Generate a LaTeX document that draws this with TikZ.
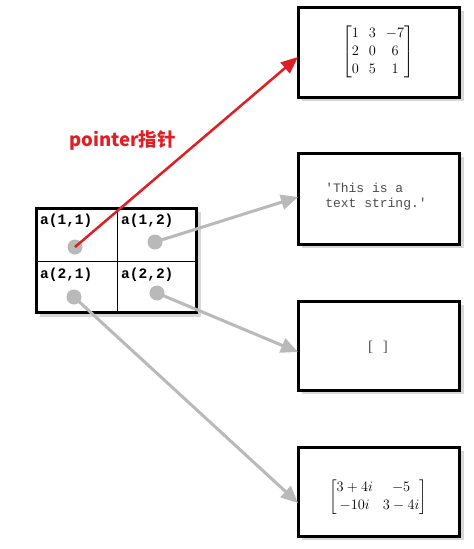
\documentclass[tikz,border=0pt]{standalone}
\usepackage{amsmath}
\usepackage{fontspec}
\setmainfont{Liberation Serif}
\setmonofont{Liberation Mono}
\newfontfamily\cjkfont{Noto Sans CJK SC}
\usetikzlibrary{arrows.meta}
\definecolor{ptrred}{RGB}{225,30,35}
\definecolor{ptrgray}{RGB}{185,185,185}
\definecolor{shadowgray}{RGB}{215,215,215}
\tikzset{
  cellbox/.style={draw=black, line width=3pt, fill=white},
  dot/.style={circle, fill=ptrgray, minimum size=15pt, inner sep=0pt},
  cellname/.style={font=\fontsize{14.5}{16}\selectfont\ttfamily\bfseries, anchor=north west, inner sep=0pt},
  grayarrow/.style={draw=ptrgray, line width=3pt, -{Triangle[length=17pt,width=15pt]}},
  redarrow/.style={draw=ptrred, line width=2.5pt, -{Triangle[length=17pt,width=14pt]}},
  content/.style={font=\fontsize{15}{18}\selectfont, inner sep=0pt}
}
\begin{document}
\begin{tikzpicture}[x=1pt,y=-1pt]
\useasboundingbox (0,0) rectangle (474,549);
\fill[white] (0,0) rectangle (474,549);
% array of cells
\fill[shadowgray] (40,212) rectangle (201,317);
\draw[cellbox] (36,208) rectangle (196,312);
\draw[line width=1pt] (117,208) -- (117,312);
\draw[line width=1pt] (36,261) -- (196,261);
\node[cellname] (l11) at (40,214) {a(1,1)};
\node[cellname] (l12) at (121,214) {a(1,2)};
\node[cellname] (l21) at (40,268) {a(2,1)};
\node[cellname] (l22) at (121,268) {a(2,2)};
% right boxes with shadows
\foreach \t/\b in {7/97, 153/244, 301/390, 447/536} {
  \fill[shadowgray] (302,\t+4) rectangle (464,\b+4);
  \draw[cellbox] (298,\t) rectangle (459,\b);
}
\coordinate (b1) at (298,57);
\coordinate (b2) at (298,197);
\coordinate (b3) at (298,352);
\coordinate (b4) at (298,503);
\node[content] (m1) at (378,52) {$\begin{bmatrix}1 & 3 & -7\\ 2 & 0 & 6\\ 0 & 5 & 1\end{bmatrix}$};
\node[content, font=\fontsize{13}{15}\selectfont\ttfamily, text=black!70, align=left] (m2) at (376,197) {'This is a\\ text string.'};
\node[content, text=black!70] (m3) at (378,347) {[\hspace{10pt}]};
\node[content] (m4) at (378,497) {$\begin{bmatrix}3+4i & -5\\ -10i & 3-4i\end{bmatrix}$};
% dots
\node[dot] (d11) at (75,247) {};
\node[dot] (d12) at (155,242) {};
\node[dot] (d21) at (74,297) {};
\node[dot] (d22) at (157,293) {};
% arrows
\draw[grayarrow] (d12.center) -- (b2);
\draw[grayarrow] (d22.center) -- (b3);
\draw[grayarrow] (d21.center) -- (b4);
\draw[redarrow] (d11.center) -- (b1);
\node[font=\cjkfont\bfseries\fontsize{18.5}{20}\selectfont, text=ptrred, anchor=west, inner sep=0pt] (lbl) at (69,140) {pointer指针};
\end{tikzpicture}
\end{document}
